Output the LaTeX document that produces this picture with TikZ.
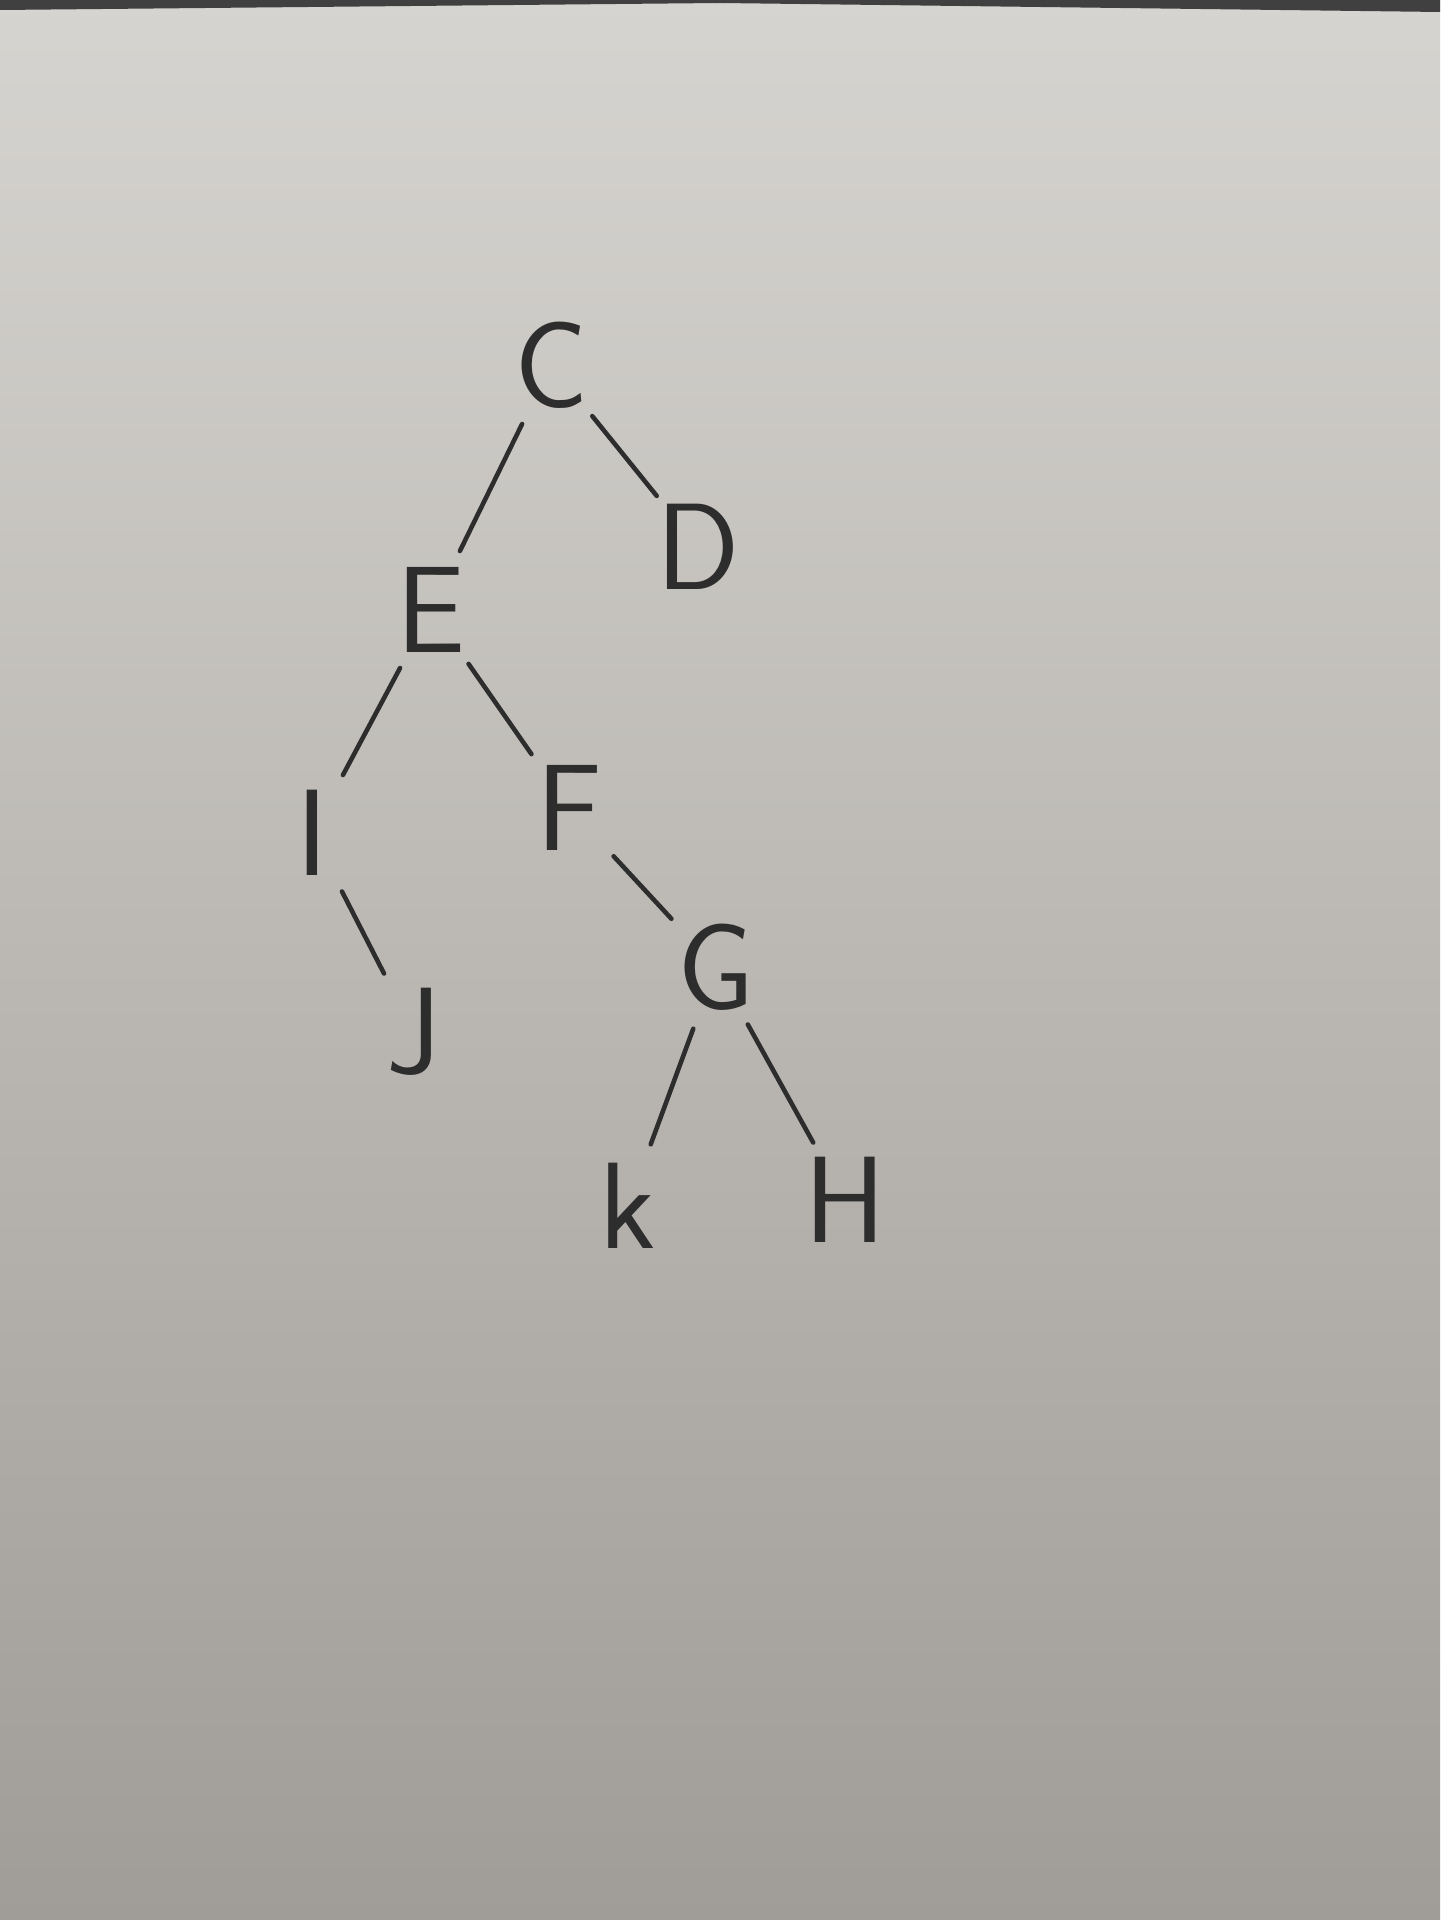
\documentclass[tikz,border=0pt]{standalone}
\usepackage{tikz}
\usetikzlibrary{calc}
\definecolor{paperTop}{RGB}{214,212,208}
\definecolor{paperBot}{RGB}{160,156,151}
\definecolor{inkGray}{RGB}{45,45,45}
\tikzset{
  letter/.style={circle, minimum size=1.3cm, inner sep=0pt, text=inkGray,
    font=\sffamily\fontsize{35}{37}\selectfont},
  branch/.style={draw=inkGray, line width=1.3pt, line cap=round}
}

\begin{document}
\begin{tikzpicture}
			%%%%% START %%%%%
			
			\useasboundingbox (0, 0) rectangle (14.4, -19.2);
			\shade[top color=paperTop, bottom color=paperBot] (0, 0) rectangle (14.4, -19.2);
			\fill[black!75] (0, 0) -- (14.4, 0) -- (14.4, -0.12) -- (7.2, -0.03) -- (0, -0.1) -- cycle;
			
			\node[letter] (C) at (5.51, -3.65) {C};
			\node[letter] (D) at (6.98, -5.47) {D};
			\node[letter] (E) at (4.31, -6.10) {E};
			\node[letter] (I) at (3.12, -8.33) {I};
			\node[letter] (F) at (5.69, -8.08) {F};
			\node[letter] (J) at (4.14, -10.32) {J};
			\node[letter] (G) at (7.16, -9.67) {G};
			\node[letter] (K) at (6.28, -12.06) {k};
			\node[letter] (H) at (8.45, -12.00) {H};
			
			\draw[branch] (C) -- (E);
			\draw[branch] (C) -- (D);
			\draw[branch] (E) -- (I);
			\draw[branch] (E) -- (F);
			\draw[branch] (I) -- (J);
			\draw[branch] (F) -- (G);
			\draw[branch] (G) -- (K);
			\draw[branch] (G) -- (H);
			
			%%%%% END %%%%%
		\end{tikzpicture}
\end{document}
